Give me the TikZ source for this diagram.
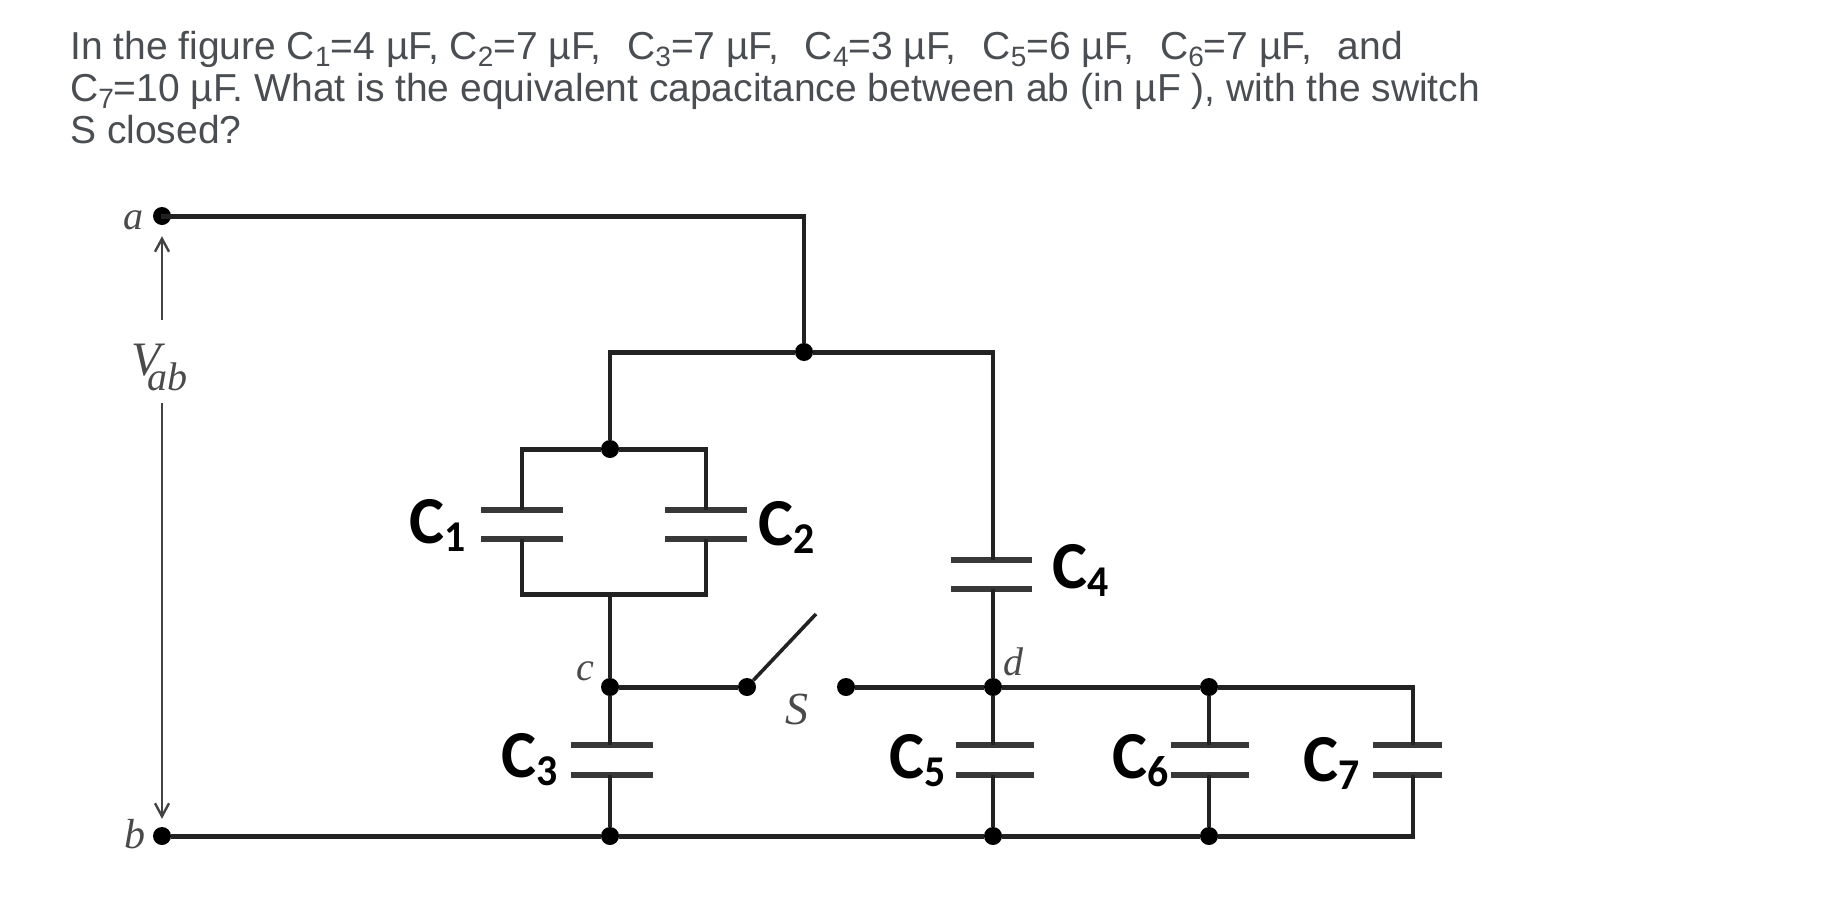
\documentclass[tikz,border=0pt]{standalone}
\usepackage{fontspec}
\usetikzlibrary{arrows.meta}
\setmainfont{Liberation Sans}
\newfontfamily\capfont[BoldFont={Carlito Bold}]{Carlito}
\newfontfamily\itfont{Liberation Serif}
\definecolor{qtext}{HTML}{4A4E52}
\definecolor{wire}{HTML}{222222}
\definecolor{itgrey}{HTML}{4A4A4A}
\newcommand{\qsub}[1]{\raisebox{-7pt}{\fontsize{28}{28}\selectfont #1}}
\newcommand{\qgap}{\hspace{25.8pt}}
\newcommand{\clab}[1]{\scalebox{1.1}[1.12]{\fontsize{60}{60}\selectfont\capfont\bfseries C}\raisebox{-8pt}{\scalebox{1.16}[1.22]{\fontsize{36}{36}\selectfont\capfont\bfseries #1}}}
\tikzset{
  x=1pt,y=-1pt,
  qline/.style={anchor=base west,inner sep=0,text=qtext,font=\fontsize{39}{39}\selectfont},
  dot/.style={circle,fill=black,inner sep=0,minimum size=18pt},
  wirethick/.style={draw=wire,line width=5pt},
  wirethin/.style={draw=wire,line width=3.6pt},
  plate/.style={rectangle,fill=wire!90!white,inner sep=0,minimum height=5.5pt},
  ital/.style={anchor=base west,inner sep=0,text=itgrey,font=\fontsize{40}{40}\selectfont\itfont\itshape},
  clabel/.style={anchor=base west,inner sep=0,text=black},
  volt/.style={draw=wire!85!white,line width=2.4pt,-{Straight Barb[length=13pt,width=14pt,line width=2.4pt]}},
}
\begin{document}
\begin{tikzpicture}
\useasboundingbox (0,0) rectangle (1836,916);
% question text
\node[qline] (q1) at (70,59) {In the figure C\qsub{1}=4 µF, C\qsub{2}=7 µF,\qgap C\qsub{3}=7 µF,\qgap C\qsub{4}=3 µF,\qgap C\qsub{5}=6 µF,\qgap C\qsub{6}=7 µF,\qgap and};
\node[qline] (q2) at (70,101) {C\qsub{7}=10 µF. What is the equivalent capacitance between ab (in µF ), with the switch};
\node[qline] (q3) at (70,143.5) {S closed?};
% junctions
\node[dot] (a) at (162,216) {};
\node[dot] (b) at (162,836) {};
\node[dot] (top) at (804,352) {};
\node[dot] (pj) at (610,449) {};
\node[dot] (c) at (610,687) {};
\node[dot] (swl) at (747,687) {};
\node[dot] (swr) at (846,687) {};
\node[dot] (d) at (993,687) {};
\node[dot] (dsix) at (1209,687) {};
\node[dot] (bthree) at (610,836) {};
\node[dot] (bfive) at (993,836) {};
\node[dot] (bsix) at (1209,836) {};
% corners
\coordinate (k1) at (804,216);
\coordinate (k2) at (610,352);
\coordinate (k3) at (993,352);
\coordinate (k4) at (522,449);
\coordinate (k5) at (706,449);
\coordinate (k6) at (522,594);
\coordinate (k7) at (706,594);
\coordinate (k8) at (610,594);
\coordinate (k9) at (1413,687);
\coordinate (k10) at (1413,836);
\coordinate (blade) at (816,614);
\coordinate (vtop) at (162,320);
\coordinate (vbot) at (162,403);
% plates
\node[plate,minimum width=82pt] (c1t) at (522,510) {};
\node[plate,minimum width=82pt] (c1b) at (522,539) {};
\node[plate,minimum width=82pt] (c2t) at (706,510) {};
\node[plate,minimum width=82pt] (c2b) at (706,539) {};
\node[plate,minimum width=82pt] (c3t) at (612,745) {};
\node[plate,minimum width=82pt] (c3b) at (612,775) {};
\node[plate,minimum width=81pt] (c4t) at (991,560) {};
\node[plate,minimum width=81pt] (c4b) at (991,589) {};
\node[plate,minimum width=78pt] (c5t) at (995,745) {};
\node[plate,minimum width=78pt] (c5b) at (995,775) {};
\node[plate,minimum width=78pt] (c6t) at (1210,745) {};
\node[plate,minimum width=78pt] (c6b) at (1210,775) {};
\node[plate,minimum width=69pt] (c7t) at (1407,745) {};
\node[plate,minimum width=69pt] (c7b) at (1407,775) {};
% heavy wires
\draw[wirethick] ([xshift=-1pt]a.center) -- ([xshift=1.8pt]k1);
\draw[wirethick] ([xshift=-1.8pt]k2) -- (top) -- ([xshift=1.8pt]k3);
\draw[wirethick] ([xshift=-1.8pt]k4) -- (pj) -- ([xshift=1.8pt]k5);
\draw[wirethick] ([xshift=-1.8pt]k6) -- (k8) -- ([xshift=1.8pt]k7);
\draw[wirethick] (c) -- (swl);
\draw[wirethick] (swr) -- (d) -- (dsix) -- ([xshift=1.8pt]k9);
\draw[wirethick] (b) -- (bthree) -- (bfive) -- (bsix) -- ([xshift=1.8pt]k10);
% verticals
\draw[wirethin] (k1) -- (top);
\draw[wirethin] (k2) -- (pj);
\draw[wirethin] (k4) -- (c1t.center -| k4);
\draw[wirethin] (c1b.center -| k4) -- (k6);
\draw[wirethin] (k5) -- (c2t.center -| k5);
\draw[wirethin] (c2b.center -| k5) -- (k7);
\draw[wirethin] (k8) -- (c);
\draw[wirethin] (c) -- (c3t.center -| c);
\draw[wirethin] (c3b.center -| c) -- (bthree);
\draw[wirethin] (k3) -- (c4t.center -| k3);
\draw[wirethin] (c4b.center -| k3) -- (d);
\draw[wirethin] (d) -- (c5t.center -| d);
\draw[wirethin] (c5b.center -| d) -- (bfive);
\draw[wirethin] (dsix) -- (c6t.center -| dsix);
\draw[wirethin] (c6b.center -| dsix) -- (bsix);
\draw[wirethin] (k9) -- (c7t.center -| k9);
\draw[wirethin] (c7b.center -| k9) -- (k10);
% switch blade
\draw[wirethin] (swl) -- (blade);
% voltage arrow
\draw[volt,shorten >=11pt] (vtop) -- (a);
\draw[volt,shorten >=8pt] (vbot) -- (b);
% italic labels
\node[ital] (la) at (123,229) {a};
\node[ital,font=\fontsize{42}{42}\selectfont\itfont\itshape] (lb) at (124,848) {b};
\node[ital] (lc) at (576,680) {c};
\node[ital] (ld) at (1003,675) {d};
\node[ital,font=\fontsize{46}{46}\selectfont\itfont\itshape] (ls) at (785,724) {S};
\node[ital,font=\fontsize{48}{48}\selectfont\itfont\itshape] (lv) at (131,375) {V\hspace{-13pt}\raisebox{-15pt}{\fontsize{40}{40}\selectfont ab}};
% capacitor labels
\node[clabel] (l1) at (409,543) {\clab{1}};
\node[clabel] (l2) at (758,545) {\clab{2}};
\node[clabel] (l3) at (501,777) {\clab{3}};
\node[clabel] (l4) at (1052,588) {\clab{4}};
\node[clabel] (l5) at (889,778) {\clab{5}};
\node[clabel] (l6) at (1112,778) {\clab{6}};
\node[clabel] (l7) at (1303,781) {\clab{7}};
\end{tikzpicture}
\end{document}
